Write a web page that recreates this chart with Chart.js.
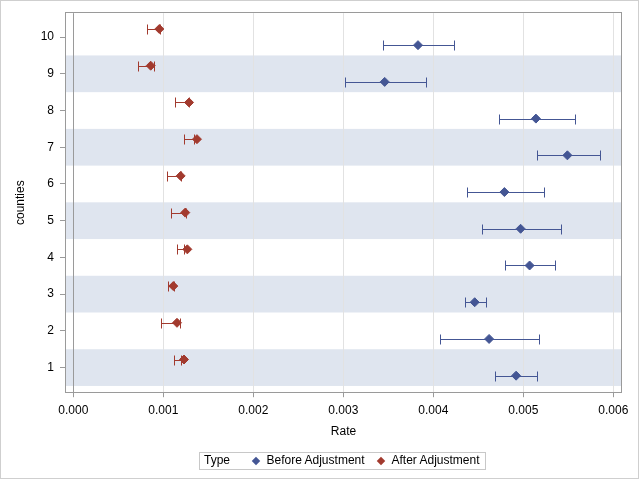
<!DOCTYPE html>
<html>
<head>
<meta charset="utf-8">
<script src="https://cdn.jsdelivr.net/npm/chart.js@4.4.1/dist/chart.umd.min.js"></script>
<style>
  html, body { margin: 0; padding: 0; background: #fff; }
  #wrap { position: relative; width: 640px; height: 480px; }
  #legend {
    position: absolute; left: 199px; top: 452px; width: 287px; height: 18px;
    box-sizing: border-box; border: 1px solid #c8c8c8;
    font: 12px "Liberation Sans", Arial, sans-serif; color: #000;
  }
  #legend span { position: absolute; top: 0; line-height: 15px; white-space: nowrap; }
  #legend .mk { width: 6px; height: 6px; top: 4.5px; transform: rotate(45deg); }
</style>
</head>
<body>
<div id="wrap">
  <canvas id="chart" width="640" height="480"></canvas>
  <div id="legend">
    <span style="left:4px">Type</span>
    <span class="mk" style="left:52.5px;background:#445694"></span>
    <span style="left:66.5px">Before Adjustment</span>
    <span class="mk" style="left:177.5px;background:#A23A2E"></span>
    <span style="left:191.5px">After Adjustment</span>
  </div>
</div>
<script>
let counties = [1, 2, 3, 4, 5, 6, 7, 8, 9, 10];

// before adjustment: rate and interval
let beforeRate  = [0.00492, 0.00462, 0.00446, 0.00507, 0.00497, 0.00479, 0.00549, 0.00514, 0.00346, 0.00383];
let beforeLower = [0.00469, 0.00407, 0.004356, 0.0048, 0.004544, 0.004378, 0.005156, 0.004726, 0.003022, 0.003444];
let beforeUpper = [0.005156, 0.005178, 0.004589, 0.005356, 0.005422, 0.005233, 0.005856, 0.005578, 0.003915, 0.004233];

// after adjustment
let afterRate  = [0.00123, 0.001152, 0.001111, 0.001267, 0.001244, 0.001193, 0.001374, 0.001286, 0.00086, 0.000956];
let afterLower = [0.001122, 0.000978, 0.001049, 0.001156, 0.001089, 0.001044, 0.001233, 0.001133, 0.00072, 0.000822];
let afterUpper = [0.001197, 0.001186, 0.00112, 0.001233, 0.00125, 0.0012, 0.001344, 0.00129, 0.0009, 0.00096];

let rateTicks = [0, 0.001, 0.002, 0.003, 0.004, 0.005, 0.006];

const blue = '#445694';
const red = '#A23A2E';
const cluster = 0.22;   // vertical shift of each group inside a county row

function points(rate, lower, upper, shift) {
    return counties.map((c, i) => ({ x: rate[i], y: c + shift, lo: lower[i], hi: upper[i] }));
}

const bandsPlugin = {
    id: 'bands',
    beforeDraw(chart) {
        const { ctx, chartArea, scales: { y } } = chart;
        ctx.save();
        ctx.fillStyle = '#dfe5ef';
        counties.forEach(c => {
            if (c % 2 === 0) return;
            const top = y.getPixelForValue(c + 0.5);
            const bot = y.getPixelForValue(c - 0.5);
            ctx.fillRect(chartArea.left, top, chartArea.right - chartArea.left, bot - top);
        });
        ctx.restore();
    }
};

const framePlugin = {
    id: 'frame',
    beforeDatasetsDraw(chart) {
        const { ctx, chartArea: a, scales: { x } } = chart;
        ctx.save();
        ctx.strokeStyle = '#9a9a9a';
        ctx.lineWidth = 1;
        const zx = Math.round(x.getPixelForValue(0)) + 0.5;
        ctx.beginPath();
        ctx.moveTo(zx, a.top);
        ctx.lineTo(zx, a.bottom);
        ctx.stroke();
        ctx.strokeRect(Math.round(a.left) - 0.5, Math.round(a.top) - 0.5,
            Math.round(a.right - a.left) + 1, Math.round(a.bottom - a.top) + 1);
        // outer border of the picture
        ctx.strokeStyle = '#cfcfcf';
        ctx.strokeRect(0.5, 0.5, 638, 478);
        ctx.restore();
    }
};

const errorBarPlugin = {
    id: 'errorBars',
    beforeDatasetsDraw(chart) {
        const { ctx, scales: { x, y } } = chart;
        ctx.save();
        ctx.lineWidth = 1;
        chart.data.datasets.forEach(ds => {
            ctx.strokeStyle = ds.borderColor;
            ds.data.forEach(p => {
                const py = Math.round(y.getPixelForValue(p.y)) + 0.5;
                const x1 = Math.round(x.getPixelForValue(p.lo)) + 0.5;
                const x2 = Math.round(x.getPixelForValue(p.hi)) + 0.5;
                ctx.beginPath();
                ctx.moveTo(x1, py); ctx.lineTo(x2, py);
                ctx.moveTo(x1, py - 5); ctx.lineTo(x1, py + 5);
                ctx.moveTo(x2, py - 5); ctx.lineTo(x2, py + 5);
                ctx.stroke();
            });
        });
        ctx.restore();
    }
};

Chart.defaults.font.family = '"Liberation Sans", Arial, sans-serif';
Chart.defaults.font.size = 12;
Chart.defaults.color = '#000';

const config = {
    type: 'scatter',
    data: {
        datasets: [{
            label: 'Before Adjustment',
            data: points(beforeRate, beforeLower, beforeUpper, -cluster),
            pointStyle: 'rectRot',
            pointRadius: 4.5,
            borderWidth: 1,
            backgroundColor: blue,
            borderColor: blue
        }, {
            label: 'After Adjustment',
            data: points(afterRate, afterLower, afterUpper, cluster),
            pointStyle: 'rectRot',
            pointRadius: 4.5,
            borderWidth: 1,
            backgroundColor: red,
            borderColor: red
        }]
    },
    options: {
        responsive: false,
        animation: false,
        layout: { padding: { left: 0, top: 12, right: 19, bottom: 41 } },
        plugins: {
            legend: { display: false },
            tooltip: { enabled: false }
        },
        scales: {
            x: {
                type: 'linear',
                min: -0.0000811,
                max: 0.0060856,
                afterBuildTicks: s => { s.ticks = rateTicks.map(v => ({ value: v })); },
                ticks: { padding: 6, callback: v => v.toFixed(3) },
                grid: { color: '#e2e2e2', tickColor: '#9a9a9a', tickLength: 5 },
                border: { display: false },
                title: { display: true, text: 'Rate', padding: { top: 1, bottom: 0 } }
            },
            y: {
                type: 'linear',
                min: 0.33,
                max: 10.65,
                afterBuildTicks: s => { s.ticks = counties.map(v => ({ value: v })); },
                afterFit: s => { s.width = 66; },
                ticks: { padding: 6, callback: v => String(v) },
                grid: { drawOnChartArea: false, tickColor: '#9a9a9a', tickLength: 6 },
                border: { display: false },
                title: { display: true, text: 'counties', padding: { top: 13, bottom: 0 } }
            }
        }
    },
    plugins: [bandsPlugin, framePlugin, errorBarPlugin]
};

const chart = new Chart(document.getElementById('chart'), config);
</script>
</body>
</html>
